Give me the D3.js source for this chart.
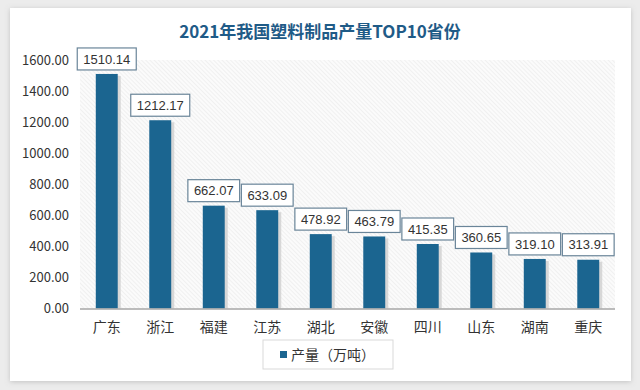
<!DOCTYPE html>
<html>
<head>
<meta charset="utf-8">
<script src="https://cdn.jsdelivr.net/npm/d3@7"></script>
<style>
  body { margin: 0; background: #ececec; }
  svg { display: block; font-family: "Noto Sans CJK SC", "Liberation Sans", sans-serif; }
</style>
</head>
<body>
<div id="chart"></div>
<script>
const width = 640;
const height = 390;

const provinces = ["广东", "浙江", "福建", "江苏", "湖北", "安徽", "四川", "山东", "湖南", "重庆"];
const output = [1510.14, 1212.17, 662.07, 633.09, 478.92, 463.79, 415.35, 360.65, 319.10, 313.91];
const yTicks = [0, 200, 400, 600, 800, 1000, 1200, 1400, 1600];

const barColor = "#1b6590";
const margin = { top: 60, right: 25, bottom: 82, left: 80 };

const svg = d3.select("#chart").append("svg")
    .attr("width", width)
    .attr("height", height);

const defs = svg.append("defs");
const pat = defs.append("pattern")
    .attr("id", "hatch")
    .attr("width", 3).attr("height", 3)
    .attr("patternUnits", "userSpaceOnUse")
    .attr("patternTransform", "rotate(-45)");
pat.append("rect").attr("width", 3).attr("height", 3).attr("fill", "#fbfbfb");
pat.append("line").attr("x1", 0).attr("y1", 0).attr("x2", 0).attr("y2", 3)
    .attr("stroke", "#e6e6e6").attr("stroke-width", 1);

const shadow = defs.append("filter").attr("id", "cardShadow")
    .attr("x", "-5%").attr("y", "-5%").attr("width", "110%").attr("height", "110%");
shadow.append("feDropShadow").attr("dx", 0).attr("dy", 1).attr("stdDeviation", 2.5)
    .attr("flood-color", "#999").attr("flood-opacity", 0.5);

// white card
svg.append("rect")
    .attr("x", 10).attr("y", 8)
    .attr("width", 621).attr("height", 373)
    .attr("fill", "#fff")
    .attr("filter", "url(#cardShadow)");

const x = d3.scaleBand()
    .domain(provinces)
    .range([margin.left, width - margin.right])
    .paddingInner(0.59)
    .paddingOuter(0.295);

const y = d3.scaleLinear()
    .domain([0, 1600])
    .range([height - margin.bottom + 0.5, margin.top]);

// plot area hatch
svg.append("rect")
    .attr("x", margin.left).attr("y", margin.top)
    .attr("width", width - margin.left - margin.right)
    .attr("height", y(0) - margin.top)
    .attr("fill", "url(#hatch)");

// title
svg.append("text")
    .attr("x", 320).attr("y", 38)
    .attr("text-anchor", "middle")
    .attr("font-size", 17).attr("font-weight", "bold")
    .attr("fill", "#1f5b87")
    .text("2021年我国塑料制品产量TOP10省份");

// y axis labels
svg.append("g")
    .selectAll("text")
    .data(yTicks)
    .join("text")
    .attr("x", 69)
    .attr("y", d => y(d))
    .attr("dy", "0.35em")
    .attr("text-anchor", "end")
    .attr("font-size", 13)
    .attr("fill", "#333")
    .text(d => d3.format(".2f")(d));

// bar shadows
svg.append("g")
    .selectAll("rect")
    .data(output)
    .join("rect")
    .attr("x", (d, i) => x(provinces[i]) + 3)
    .attr("y", d => y(d) + 2)
    .attr("width", x.bandwidth())
    .attr("height", d => y(0) - y(d) - 2)
    .attr("fill", "#cfcfcf")
    .attr("opacity", 0.8);

// bars
svg.append("g")
    .selectAll("rect")
    .data(output)
    .join("rect")
    .attr("x", (d, i) => x(provinces[i]))
    .attr("y", d => y(d))
    .attr("width", x.bandwidth())
    .attr("height", d => y(0) - y(d))
    .attr("fill", barColor);

// x axis line
svg.append("line")
    .attr("x1", margin.left).attr("x2", width - margin.right)
    .attr("y1", y(0) + 0.5).attr("y2", y(0) + 0.5)
    .attr("stroke", "#a6a6a6").attr("stroke-width", 1.5);

// x labels
svg.append("g")
    .selectAll("text")
    .data(provinces)
    .join("text")
    .attr("x", d => x(d) + x.bandwidth() / 2)
    .attr("y", 332)
    .attr("text-anchor", "middle")
    .attr("font-size", 14)
    .attr("fill", "#333")
    .text(d => d);

// value labels in boxes, box sized to the text
const lab = svg.append("g")
    .selectAll("g")
    .data(output)
    .join("g")
    .attr("transform", (d, i) => `translate(${x(provinces[i]) + x.bandwidth() / 2},${y(d) - 15})`);

const boxes = lab.append("rect")
    .attr("y", -11)
    .attr("height", 22)
    .attr("fill", "#fff")
    .attr("stroke", "#6a8599").attr("stroke-width", 1.2);

const vals = lab.append("text")
    .attr("text-anchor", "middle")
    .attr("dy", "0.36em")
    .attr("font-size", 13)
    .attr("font-family", "Liberation Sans, sans-serif")
    .attr("fill", "#333")
    .text(d => d3.format(".2f")(d));

vals.each(function() {
  const w = this.getComputedTextLength() + 12;
  d3.select(this.parentNode).select("rect")
    .attr("x", -w / 2)
    .attr("width", w);
});

// legend
const leg = svg.append("g").attr("transform", "translate(263,340)");
leg.append("rect")
    .attr("width", 130).attr("height", 29)
    .attr("fill", "#fff")
    .attr("stroke", "#d9d9d9");
leg.append("rect")
    .attr("x", 17).attr("y", 11).attr("width", 7).attr("height", 7)
    .attr("fill", barColor);
leg.append("text")
    .attr("x", 28).attr("y", 15)
    .attr("dy", "0.35em")
    .attr("font-size", 14)
    .attr("fill", "#333")
    .text("产量（万吨）");
</script>
</body>
</html>
